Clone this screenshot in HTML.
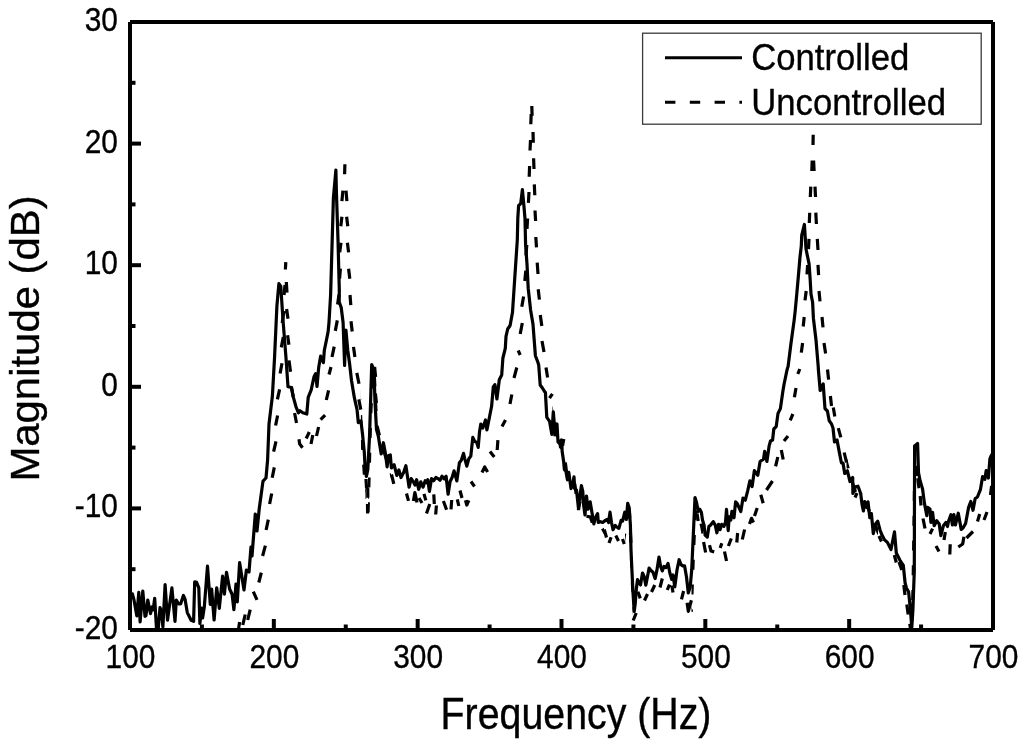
<!DOCTYPE html>
<html><head><meta charset="utf-8"><title>Frequency response</title>
<style>
html,body{margin:0;padding:0;background:#fff;}
body{width:1024px;height:747px;overflow:hidden;}
svg{display:block;font-family:"Liberation Sans",Arial,sans-serif;}
text{stroke:#000;stroke-width:0.35px;}
</style></head><body>
<svg width="1024" height="747" viewBox="0 0 1024 747">
<rect width="1024" height="747" fill="#fff"/>
<defs><clipPath id="c"><rect x="130.0" y="22.0" width="863.0" height="608.0"/></clipPath>
<clipPath id="h"><rect x="360.9" y="22.0" width="5.3" height="608.0"/><rect x="368" y="22.0" width="23.0" height="608.0"/><rect x="552.5" y="22.0" width="51.5" height="608.0"/><rect x="625" y="22.0" width="8.0" height="608.0"/><rect x="691.5" y="22.0" width="11.5" height="608.0"/><rect x="846.5" y="22.0" width="31.5" height="608.0"/><rect x="911" y="22.0" width="9.0" height="608.0"/></clipPath></defs>
<g clip-path="url(#c)" fill="none" stroke="#000" stroke-width="3.2" stroke-linejoin="round">
<g clip-path="url(#h)"><path d="M237.5,634.0 L240.4,621.0 L242.4,624.5 L245.5,614.6 L247.5,620.0 L251.0,609.8 L252.7,591.7 L257.8,599.4 L259.0,582.7 L261.7,571.0 L263.0,555.7 L265.6,546.7 L267.5,525.0 L270.3,499.0 L273.0,473.0 L274.5,446.0 L276.0,418.0 L278.9,390.0 L281.7,362.0 L283.0,337.0 L284.5,314.6 L285.9,289.0 L286.4,262.6 L287.3,286.5 L288.1,311.8 L289.2,339.8 L290.0,368.0 L292.9,396.0 L296.5,418.4 L299.9,443.7 L301.3,446.5 L305.0,440.0 L308.3,435.3 L312.0,437.0 L316.8,429.6 L320.0,420.0 L322.4,417.0 L324.3,414.2 L327.0,396.0 L329.4,370.7 L332.2,350.0 L335.6,325.0 L338.4,299.0 L340.0,247.5 L340.9,221.4 L342.2,196.0 L344.3,164.4 L345.6,195.3 L347.1,221.4 L348.0,247.5 L349.0,274.0 L350.6,300.0 L351.5,326.0 L354.3,352.0 L357.7,378.6 L360.0,404.0 L360.9,422.0 L364.8,481.0 L366.1,483.0 L367.0,493.0 L367.3,509.0 L368.0,513.0 L369.0,480.0 L370.5,420.0 L372.7,370.0 L374.5,379.0 L376.6,424.0 L381.8,445.0 L387.0,461.0 L392.6,478.0 L400.0,486.0 L407.5,497.0 L414.7,497.0 L420.3,499.0 L425.2,497.5 L428.3,508.6 L434.8,504.4 L440.0,505.0 L445.2,505.3 L451.7,504.8 L458.3,502.5 L461.3,494.0 L466.5,502.0 L473.0,483.4 L477.0,478.0 L484.3,469.0 L492.6,453.4 L497.8,445.0 L503.9,423.0 L507.0,414.0 L511.3,399.6 L516.1,373.0 L519.8,352.0 L521.4,328.0 L523.4,302.0 L525.8,276.0 L526.3,249.0 L527.6,223.3 L528.4,197.2 L529.3,171.3 L530.0,145.5 L530.4,120.0 L531.9,106.0 L532.5,137.7 L533.6,163.4 L534.6,189.6 L535.3,215.8 L536.1,242.1 L537.8,268.2 L539.0,294.2 L540.7,320.7 L543.1,346.6 L546.3,373.1 L549.9,396.6 L552.3,415.5 L555.0,436.0 L557.5,428.0 L560.5,447.0 L563.6,449.0 L566.8,474.0 L570.0,477.0 L574.3,481.0 L578.5,510.0 L581.8,490.0 L585.0,516.0 L590.3,517.0 L593.5,526.0 L597.8,530.0 L602.1,528.0 L606.2,535.0 L612.0,534.0 L617.6,538.0 L623.5,541.3 L627.6,515.0 L629.5,514.0 L630.8,540.0 L632.5,585.0 L634.7,617.4 L636.0,619.0 L640.4,595.5 L645.7,597.0 L652.8,588.3 L660.4,583.2 L669.0,586.0 L673.7,589.8 L682.7,595.5 L687.5,600.3 L689.4,606.0 L691.3,611.7 L693.2,560.0 L695.1,515.0 L697.0,510.0 L699.8,518.5 L702.0,528.0 L705.0,545.0 L708.0,547.0 L712.2,548.0 L718.9,545.0 L721.4,545.7 L725.9,556.0 L729.9,542.4 L737.3,539.0 L744.1,534.4 L751.6,521.2 L756.1,511.6 L762.4,498.5 L769.2,485.3 L777.1,461.5 L782.4,454.6 L786.3,438.7 L792.0,417.0 L795.3,392.8 L798.4,371.2 L801.3,348.2 L803.7,321.8 L806.1,295.2 L807.4,269.2 L808.9,243.5 L809.6,217.8 L810.2,192.2 L811.7,166.5 L813.2,135.0 L813.9,166.5 L815.3,192.2 L816.0,217.8 L817.1,243.5 L818.8,270.2 L819.4,296.5 L821.8,323.0 L824.2,349.5 L827.8,374.8 L831.4,400.1 L833.9,412.1 L839.7,433.0 L845.0,457.0 L850.0,475.0 L856.2,494.3 L862.0,505.0 L868.0,508.0 L874.0,522.0 L879.8,536.7 L886.0,548.0 L892.0,550.0 L896.4,557.0 L900.6,567.8 L904.7,590.0 L907.3,608.5 L909.0,625.0 L910.5,632.0 L912.6,610.0 L913.5,560.0 L914.8,465.0 L916.7,469.2 L918.5,485.0 L921.3,501.0 L923.7,523.5 L927.0,527.0 L931.7,531.0 L937.8,548.2 L944.4,535.5 L949.5,548.6 L955.0,546.0 L959.8,546.3 L964.0,540.2 L970.1,534.1 L978.5,517.8 L985.1,515.9 L991.2,492.0 L993.0,488.0" stroke-dasharray="10 14.8" stroke-linejoin="miter"/></g>
<path d="M238.4,630.0 L239.6,622.0 M242.8,625.0 L245.2,614.5 M247.7,620.0 L250.2,609.6 M253.3,591.7 L257.0,599.8 M258.8,582.5 L261.3,572.6 M262.6,556.0 L265.4,545.7 M266.1,530.0 L268.3,519.6 M269.6,504.0 L271.7,493.5 M272.2,477.8 L274.3,467.4 M273.6,451.7 L276.0,441.3 M275.6,425.5 L277.6,415.5 M277.4,399.4 L279.6,389.4 M280.1,373.5 L282.0,363.3 M281.3,347.4 L283.3,337.0 M282.2,323.0 L284.0,311.0 M284.0,295.0 L285.0,285.0 M285.4,269.5 L285.8,262.2 M286.3,282.0 L287.0,292.6 M286.6,309.0 L288.0,318.7 M287.6,335.2 L288.9,344.8 M289.0,360.4 L290.5,371.7 M291.3,386.5 L293.2,397.0 M294.6,413.0 L296.5,423.0 M299.0,439.2 L299.6,443.8 L302.5,447.8 M306.2,438.5 L309.3,432.0 M311.0,444.0 L312.8,435.0 M316.5,436.0 L318.6,427.0 M320.6,419.7 L325.1,415.1 M326.3,400.0 L328.6,390.4 M329.0,374.5 L331.0,367.0 M332.0,357.0 L334.2,346.6 M335.3,330.9 L337.3,320.4 M337.6,304.5 L339.0,294.5 M339.6,278.7 L340.4,268.7 M339.7,252.4 L341.0,242.8 M340.8,226.3 L341.9,216.7 M341.9,201.1 L342.9,190.7 M344.6,174.3 L344.9,164.2 M346.0,190.7 L346.9,201.1 M346.6,216.7 L347.8,226.3 M347.4,242.8 L348.6,252.4 M348.6,268.7 L349.8,278.7 M350.0,295.0 L350.8,305.2 M351.0,321.2 L352.2,331.5 M353.5,346.9 L354.9,357.0 M356.8,372.9 L359.0,383.7 M358.8,399.4 L360.8,409.6 M366.0,479.0 L366.5,487.5 L367.8,489.0 L367.8,497.8 M367.5,504.0 L367.6,513.5 M374.6,367.0 L375.6,377.0 M375.4,393.5 L376.4,403.0 M391.5,474.5 L393.8,483.8 M406.5,493.5 L408.5,500.8 M413.4,501.0 L414.9,492.5 L417.0,502.5 M419.0,498.0 L422.0,503.0 M424.0,493.8 L425.8,500.4 M426.5,513.5 L429.8,504.0 M433.8,494.3 L434.3,504.0 M436.4,505.5 L435.7,514.5 M443.4,501.0 L446.6,509.8 M451.7,500.0 L451.0,509.3 M457.3,499.3 L458.8,506.0 M460.0,490.5 L462.0,498.0 M465.5,500.3 L466.8,505.0 L468.8,500.3 M471.0,481.5 L474.5,486.5 M482.0,472.5 L484.7,467.0 L487.6,472.0 M490.0,451.5 L494.3,457.0 M497.9,440.2 L497.2,450.0 M502.0,426.5 L505.5,420.0 M510.0,404.0 L511.8,394.5 M514.0,378.0 L516.8,367.5 M518.2,350.5 L520.2,355.0 M520.2,334.0 L522.3,323.0 M521.8,306.8 L523.6,296.4 M524.8,281.0 L525.8,270.7 M526.0,255.4 L526.8,245.0 M527.0,228.9 L527.6,218.5 M528.4,202.9 L529.0,192.0 M529.2,176.7 L529.6,166.0 M530.0,150.5 L530.5,140.0 M530.8,124.3 L531.2,114.0 M531.8,106.0 L532.1,115.8 M533.0,132.0 L533.3,142.8 M533.6,158.2 L534.0,169.0 M534.3,184.4 L534.8,195.2 M535.0,210.5 L535.6,221.0 M535.8,237.0 L536.5,247.4 M537.2,262.7 L538.0,274.0 M538.2,289.2 L539.4,299.6 M540.3,315.0 L541.8,326.0 M542.0,341.0 L544.0,352.0 M546.0,367.5 L547.6,377.5 M549.5,398.2 L552.4,393.8 M562.5,446.0 L563.8,439.0 M604.2,529.5 L606.5,537.5 M609.0,543.0 L611.1,537.2 M615.8,535.5 L618.5,541.0 M622.5,539.0 L624.3,544.0 M633.2,620.5 L636.2,613.0 M637.9,591.8 L640.3,598.4 M644.5,600.5 L647.5,594.0 M651.5,592.0 L654.8,585.0 M660.0,587.5 L662.3,578.5 M667.3,590.0 L669.5,584.5 M671.8,585.5 L673.0,592.5 M681.5,599.3 L683.6,591.0 M687.1,602.8 L688.3,611.4 L691.4,600.3 M697.0,513.5 L698.2,521.0 M703.6,542.0 L705.6,552.5 M709.5,545.2 L711.0,551.0 L714.2,551.9 M720.2,548.0 L721.8,543.2 M724.5,551.5 L726.5,561.0 M728.4,546.0 L731.3,538.5 M736.8,542.5 L737.6,533.0 M742.3,539.5 L744.6,529.5 M749.5,524.0 L751.5,518.3 L753.5,522.5 M754.5,516.0 L757.2,508.0 M760.8,494.8 L763.2,503.2 M766.5,490.0 L772.5,481.0 M775.6,466.4 L777.8,457.0 M781.3,450.0 L783.2,459.5 M784.0,441.0 L788.0,436.0 M790.2,420.3 L792.9,414.0 M794.4,397.3 L796.0,388.0 M797.8,374.0 L799.8,369.0 M801.3,352.6 L802.6,343.0 M803.2,326.5 L804.2,317.0 M805.0,300.4 L806.2,291.0 M807.0,274.3 L807.6,265.0 M808.5,249.2 L809.0,238.8 M809.3,223.0 L809.7,212.7 M810.3,197.0 L810.8,186.6 M811.8,171.0 L812.2,160.5 M813.0,145.0 L813.2,134.8 M813.6,160.5 L814.1,171.0 M815.0,186.6 L815.5,197.0 M815.8,212.7 L816.4,224.0 M817.3,238.8 L818.0,250.0 M818.0,264.8 L818.6,275.2 M819.0,291.0 L820.0,301.3 M822.0,317.0 L823.0,327.4 M824.0,343.0 L825.6,353.5 M827.5,369.5 L828.6,379.6 M830.4,396.0 L831.5,406.0 M833.3,407.5 L834.8,416.4 M838.3,428.2 L840.8,437.4 M844.2,452.5 L846.5,462.5 M855.0,497.5 L857.0,493.0 M879.0,536.0 L881.5,541.5 M894.3,555.0 L896.3,562.5 M899.0,562.0 L901.8,570.0 M903.8,585.0 L905.0,595.0 M906.8,604.5 L908.2,614.5 M909.8,623.7 L910.6,630.0 M915.8,466.0 L916.8,476.0 M920.2,496.0 L921.0,505.5 M923.0,518.5 L925.0,528.5 M930.0,534.0 L932.6,528.6 M936.0,546.0 L939.0,551.5 M944.0,540.0 L945.3,532.0 M949.8,554.5 L950.2,544.3 M958.3,547.0 L962.7,544.0 L963.9,536.8 M966.5,538.0 L973.0,531.5 M977.5,521.5 L979.7,514.0 M984.0,520.0 L987.0,512.0 M990.5,495.0 L991.6,486.0" stroke-linejoin="round"/>
<path d="M130.5,594.0 L132.4,593.9 L134.0,600.0 L136.8,615.8 L138.8,592.3 L140.1,621.9 L142.8,591.2 L145.0,616.4 L146.0,615.5 L147.8,600.0 L150.5,613.7 L152.1,607.0 L153.2,609.8 L154.7,598.3 L156.5,629.0 L158.2,629.0 L160.0,607.6 L161.5,611.5 L162.9,626.8 L165.1,584.6 L167.5,620.2 L171.9,587.9 L175.0,621.3 L176.3,600.0 L178.5,603.8 L180.7,603.8 L183.4,595.5 L185.1,599.4 L187.3,612.6 L189.5,617.0 L191.1,620.2 L193.6,621.3 L194.7,581.8 L196.6,582.4 L198.8,587.9 L199.9,623.5 L201.5,608.2 L202.6,618.0 L204.3,607.0 L207.5,566.0 L210.3,604.5 L211.6,589.0 L214.1,620.0 L216.7,587.8 L219.3,608.4 L222.6,576.2 L224.4,594.2 L226.5,572.4 L229.6,589.0 L232.1,594.2 L233.9,609.7 L236.0,584.0 L237.3,602.0 L239.6,562.5 L244.0,590.0 L246.4,570.0 L249.0,572.0 L251.0,547.0 L252.0,556.0 L255.3,514.0 L257.0,531.0 L259.2,509.0 L263.0,481.1 L266.0,478.0 L267.6,460.0 L269.0,424.0 L272.4,396.0 L274.6,356.7 L276.9,306.0 L278.9,283.7 L280.8,286.5 L283.0,320.0 L285.9,356.7 L288.0,386.7 L291.5,387.5 L293.4,397.4 L296.0,406.8 L298.5,412.8 L300.0,410.8 L302.8,412.8 L306.8,414.0 L308.2,397.4 L311.2,389.9 L314.0,376.8 L315.7,373.6 L317.0,386.5 L318.7,367.4 L320.6,356.2 L323.4,362.7 L324.3,350.5 L326.2,341.2 L328.1,331.8 L329.0,322.5 L330.6,295.0 L333.4,198.0 L335.9,170.0 L336.4,192.0 L338.0,240.0 L339.3,290.0 L339.2,302.0 L341.2,307.5 L343.1,322.5 L344.6,365.5 L345.9,330.0 L347.8,350.5 L349.6,363.7 L351.5,380.5 L354.3,397.4 L357.1,410.0 L358.3,422.6 L360.9,420.9 L362.6,434.8 L364.3,452.2 L365.2,469.6 L366.4,476.5 L367.8,469.6 L368.7,452.2 L369.6,434.8 L371.7,364.6 L374.0,369.3 L374.9,400.0 L376.5,429.6 L378.3,436.0 L379.1,441.1 L381.2,453.9 L383.4,442.7 L385.5,453.9 L387.1,466.8 L388.7,455.5 L390.3,455.0 L391.4,467.9 L394.1,464.7 L396.8,475.4 L398.9,470.0 L401.0,477.5 L403.7,472.2 L405.9,465.7 L409.1,487.2 L411.2,478.6 L413.4,481.8 L415.0,485.0 L416.6,479.7 L418.7,489.3 L420.8,481.8 L423.0,487.2 L425.2,480.7 L426.8,482.9 L427.8,479.7 L429.4,491.4 L431.6,478.6 L433.7,480.7 L435.9,477.5 L438.0,478.6 L440.0,480.2 L442.0,476.2 L444.0,478.9 L446.1,476.2 L448.1,494.2 L450.1,481.5 L452.1,477.5 L454.1,470.8 L456.8,480.9 L459.4,462.8 L461.4,460.1 L463.5,453.4 L464.8,458.8 L466.8,466.2 L468.8,458.8 L470.8,456.1 L472.8,437.4 L474.8,441.4 L476.8,442.7 L478.2,447.4 L479.5,432.0 L480.8,424.0 L482.8,428.0 L485.5,420.0 L486.9,430.0 L488.9,420.0 L491.6,406.3 L493.3,387.0 L494.9,384.6 L496.9,399.0 L499.3,379.8 L501.7,375.0 L502.9,358.0 L505.3,348.4 L506.0,336.4 L507.7,329.0 L510.1,325.5 L512.5,312.3 L514.9,276.0 L517.3,240.0 L517.8,218.6 L518.6,205.7 L520.7,203.6 L522.4,189.6 L523.9,205.7 L525.0,218.6 L525.6,245.0 L527.0,264.0 L528.2,288.2 L530.6,309.9 L533.0,324.3 L535.4,355.7 L537.8,362.0 L538.7,365.0 L540.2,385.0 L542.4,388.0 L544.6,391.6 L545.4,392.4 L546.8,417.4 L549.6,421.4 L551.8,434.3 L553.3,411.8 L555.0,432.0 L557.0,424.0 L558.0,442.0 L560.3,443.9 L561.5,440.0 L562.2,451.8 L563.7,462.0 L564.4,469.5 L565.9,471.0 L567.4,479.8 L568.8,472.4 L571.0,488.6 L572.5,485.7 L574.0,476.8 L574.7,488.6 L576.5,490.0 L578.4,507.7 L579.9,496.0 L581.4,485.7 L582.8,491.5 L583.6,505.0 L585.0,515.0 L586.5,496.0 L588.0,509.2 L590.2,501.9 L591.7,511.0 L593.9,524.0 L595.3,518.0 L597.6,513.6 L598.3,522.5 L600.5,521.7 L602.7,522.5 L604.5,521.0 L607.1,519.5 L608.6,522.5 L610.0,512.2 L611.5,522.5 L613.0,529.8 L615.2,525.4 L616.7,527.0 L618.9,528.4 L621.1,520.3 L622.6,521.0 L624.8,512.2 L626.3,519.5 L627.7,503.3 L629.2,507.7 L630.4,525.0 L631.0,550.0 L632.0,572.0 L633.1,594.0 L634.2,611.5 L635.3,602.7 L636.4,588.5 L637.5,579.7 L639.2,583.0 L640.5,585.0 L642.5,573.0 L644.1,576.4 L645.8,585.2 L646.9,579.7 L649.1,568.1 L651.3,570.9 L652.9,572.0 L655.1,578.6 L656.8,570.9 L659.0,557.1 L660.6,566.5 L662.3,570.9 L663.9,566.5 L666.0,567.6 L668.0,563.4 L669.9,573.3 L671.7,579.4 L673.0,575.0 L674.8,586.8 L677.0,570.0 L679.1,559.7 L681.0,564.6 L682.8,565.9 L684.6,565.9 L686.5,577.0 L688.3,593.0 L690.2,586.8 L691.7,570.0 L693.4,532.8 L695.0,497.5 L696.6,502.8 L698.2,511.4 L699.8,509.3 L701.4,512.5 L702.5,520.0 L704.1,525.3 L705.1,535.0 L707.3,537.1 L708.9,526.4 L710.5,525.3 L713.2,521.6 L715.3,525.3 L716.9,532.8 L718.5,524.3 L720.1,529.6 L721.7,524.3 L723.9,526.4 L725.5,522.1 L726.5,509.3 L728.2,530.7 L729.2,516.8 L730.8,520.0 L731.9,511.4 L734.0,517.8 L735.6,501.8 L737.3,503.6 L740.8,511.6 L743.0,498.0 L745.3,500.2 L747.6,491.1 L749.9,480.9 L752.1,486.6 L754.4,470.6 L757.8,475.2 L760.1,461.5 L763.5,459.2 L764.7,451.3 L766.9,461.5 L769.2,445.6 L770.5,441.0 L772.6,440.0 L773.8,429.0 L776.2,426.6 L778.0,413.4 L780.4,408.6 L782.8,391.7 L784.0,384.5 L787.0,370.0 L788.1,366.4 L790.9,344.0 L794.1,320.6 L795.2,310.9 L797.0,291.7 L798.9,270.0 L800.0,257.0 L801.3,246.0 L801.7,235.5 L804.4,224.5 L806.0,249.0 L809.1,264.0 L810.2,280.0 L811.0,294.1 L812.6,302.2 L813.4,318.2 L816.0,340.0 L818.2,366.4 L818.4,370.0 L820.2,390.5 L823.2,383.9 L825.0,408.6 L827.4,411.0 L829.2,420.6 L831.6,424.2 L833.0,428.0 L834.5,442.0 L837.0,439.9 L839.5,453.1 L841.4,462.8 L843.0,463.0 L844.7,473.5 L847.4,470.8 L850.0,481.5 L852.7,477.5 L852.9,493.5 L855.4,486.8 L858.0,486.2 L860.7,493.5 L862.0,504.2 L863.4,511.0 L864.7,501.5 L866.8,507.0 L868.0,501.8 L869.8,517.7 L871.4,513.6 L873.3,533.6 L875.5,524.0 L877.7,521.2 L880.0,530.0 L882.1,535.3 L884.6,539.9 L887.4,542.4 L891.0,549.5 L892.4,542.4 L894.5,531.8 L896.3,553.0 L899.8,560.0 L903.3,565.4 L905.1,583.0 L906.5,588.2 L908.6,591.9 L910.4,609.5 L911.8,627.2 L912.9,610.0 L914.3,570.7 L914.6,446.0 L917.6,443.5 L918.5,472.5 L920.1,480.8 L922.6,489.2 L924.3,502.4 L926.8,515.7 L927.6,507.4 L930.0,509.0 L930.9,522.4 L932.6,512.4 L934.2,525.7 L936.7,520.7 L939.2,524.0 L940.9,535.7 L943.4,525.7 L945.9,522.4 L947.5,526.5 L948.6,521.0 L950.9,514.7 L952.4,525.0 L953.9,514.7 L955.4,525.0 L958.3,513.2 L961.2,529.4 L963.0,528.0 L965.6,523.5 L968.6,507.4 L970.8,501.5 L973.0,510.3 L975.2,498.5 L977.4,497.0 L980.4,489.7 L982.6,476.5 L984.8,479.4 L986.2,470.6 L988.4,478.0 L989.9,458.8 L991.1,455.9 L993.0,453.0"/>
</g>
<g stroke="#000" stroke-width="4"><line x1="130.00" y1="630.0" x2="130.00" y2="619.0"/><line x1="273.83" y1="630.0" x2="273.83" y2="619.0"/><line x1="417.67" y1="630.0" x2="417.67" y2="619.0"/><line x1="561.50" y1="630.0" x2="561.50" y2="619.0"/><line x1="705.33" y1="630.0" x2="705.33" y2="619.0"/><line x1="849.17" y1="630.0" x2="849.17" y2="619.0"/><line x1="993.00" y1="630.0" x2="993.00" y2="619.0"/><line x1="201.92" y1="630.0" x2="201.92" y2="624.5"/><line x1="345.75" y1="630.0" x2="345.75" y2="624.5"/><line x1="489.58" y1="630.0" x2="489.58" y2="624.5"/><line x1="633.42" y1="630.0" x2="633.42" y2="624.5"/><line x1="777.25" y1="630.0" x2="777.25" y2="624.5"/><line x1="921.08" y1="630.0" x2="921.08" y2="624.5"/><line x1="130.0" y1="630.00" x2="141.0" y2="630.00"/><line x1="130.0" y1="508.40" x2="141.0" y2="508.40"/><line x1="130.0" y1="386.80" x2="141.0" y2="386.80"/><line x1="130.0" y1="265.20" x2="141.0" y2="265.20"/><line x1="130.0" y1="143.60" x2="141.0" y2="143.60"/><line x1="130.0" y1="22.00" x2="141.0" y2="22.00"/><line x1="130.0" y1="569.20" x2="135.5" y2="569.20"/><line x1="130.0" y1="447.60" x2="135.5" y2="447.60"/><line x1="130.0" y1="326.00" x2="135.5" y2="326.00"/><line x1="130.0" y1="204.40" x2="135.5" y2="204.40"/><line x1="130.0" y1="82.80" x2="135.5" y2="82.80"/></g>
<path d="M130.0,22.0 H993.0 M993.0,22.0 V630.0 M130.0,630.0 H993.0 M130.0,22.0 V630.0" fill="none" stroke="#000" stroke-width="4" stroke-linecap="butt"/>
<g font-size="32.5" fill="#000"><text transform="translate(130.50,667.7) scale(0.92,1)" text-anchor="middle">100</text><text transform="translate(274.33,667.7) scale(0.92,1)" text-anchor="middle">200</text><text transform="translate(418.17,667.7) scale(0.92,1)" text-anchor="middle">300</text><text transform="translate(562.00,667.7) scale(0.92,1)" text-anchor="middle">400</text><text transform="translate(705.83,667.7) scale(0.92,1)" text-anchor="middle">500</text><text transform="translate(849.67,667.7) scale(0.92,1)" text-anchor="middle">600</text><text transform="translate(993.50,667.7) scale(0.92,1)" text-anchor="middle">700</text><text transform="translate(118,639.00) scale(0.92,1)" text-anchor="end">-20</text><text transform="translate(118,517.40) scale(0.92,1)" text-anchor="end">-10</text><text transform="translate(118,395.80) scale(0.92,1)" text-anchor="end">0</text><text transform="translate(118,274.20) scale(0.92,1)" text-anchor="end">10</text><text transform="translate(118,152.60) scale(0.92,1)" text-anchor="end">20</text><text transform="translate(118,31.00) scale(0.92,1)" text-anchor="end">30</text></g>
<text transform="translate(440.6,728.7) scale(0.952,1.055)" font-size="41.3">Frequency (Hz)</text>
<text transform="translate(39.1,481.6) scale(0.944,1) rotate(-90) scale(1,1.041)" font-size="41.9">Magnitude (dB)</text>
<rect x="642.6" y="33.2" width="338.6" height="91" fill="#fff" stroke="#3a3a3a" stroke-width="1.3"/>
<line x1="665" y1="57.7" x2="742" y2="57.7" stroke="#000" stroke-width="3"/>
<line x1="665" y1="102.3" x2="742" y2="102.3" stroke="#000" stroke-width="3" stroke-dasharray="10.4 14.4"/>
<text transform="translate(751.2,70.2) scale(0.948,1)" font-size="36.6">Controlled</text>
<text transform="translate(751.2,115) scale(0.948,1)" font-size="36.6">Uncontrolled</text>
</svg>
</body></html>
